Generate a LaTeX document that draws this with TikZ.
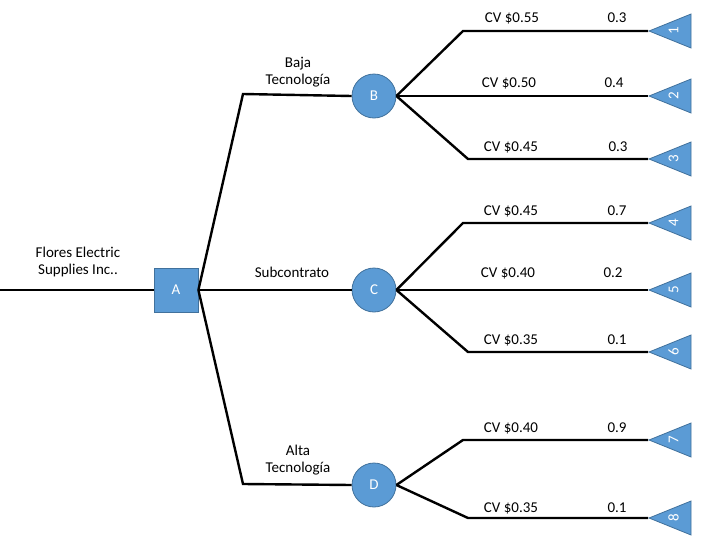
\documentclass[tikz,border=0pt]{standalone}
\usepackage{fontspec}
\setmainfont{Carlito}
\usetikzlibrary{shapes.geometric}
\begin{document}
\begin{tikzpicture}[x=1pt,y=-1pt,
  every node/.style={font=\fontsize{15}{17}\selectfont},
  ln/.style={line width=2.4pt,black},
  blue/.style={fill=cb,draw=cd,line width=0.8pt,text=white},
  chance/.style={blue,circle,minimum size=44pt,inner sep=0},
  dec/.style={blue,rectangle,minimum size=44pt,inner sep=0},
  endtri/.style={blue,isosceles triangle,isosceles triangle stretches,shape border rotate=180,minimum width=34pt,minimum height=42pt,inner sep=0,anchor=apex},
  txt/.style={align=center,inner sep=0}]
\definecolor{cb}{HTML}{5B9BD5}
\definecolor{cd}{HTML}{41719C}
\useasboundingbox (0,0) rectangle (705,549);
\node[dec] (A) at (176,290) {A};
\node[chance] (B) at (374,96) {B};
\node[chance] (C) at (374,290) {C};
\node[chance] (D) at (374,485) {D};
\coordinate (s) at (0,290);
\draw[ln] (s) -- (A.west);
\coordinate (ab) at (243,94);
\coordinate (ad) at (243,484);
\draw[ln] (A.east) -- (ab) -- (B.west);
\draw[ln] (A.east) -- (C.west);
\draw[ln] (A.east) -- (ad) -- (D.west);
\node[txt] at (78,262) {Flores Electric\\Supplies Inc..};
\node[txt] at (298,72) {Baja\\Tecnología};
\node[txt] at (292,272) {Subcontrato};
\node[txt] at (298,460) {Alta\\Tecnología};
\foreach \n/\y/\bx/\p/\cv/\pr/\cx/\px/\ly in {
 1/31/463/B/0.55/0.3/512/617/18,
 2/96/398/B/0.50/0.4/509/614/83,
 3/159/468/B/0.45/0.3/511/618/147,
 4/223/463/C/0.45/0.7/511/617/211,
 5/290/398/C/0.40/0.2/508/613/273,
 6/352/468/C/0.35/0.1/511/617/340,
 7/440/463/D/0.40/0.9/511/617/428,
 8/518/468/D/0.35/0.1/511/617/508}{
  \node[endtri] (T\n) at (648,\y) {};
  \node[text=white,rotate=90,inner sep=0] at ([xshift=-6pt]T\n.center) {\n};
  \coordinate (k\n) at (\bx,\y);
  \draw[ln] (\p.east) -- (k\n) -- (T\n.apex);
  \node[txt] at (\cx,\ly) {CV \$\cv};
  \node[txt] at (\px,\ly) {\pr};
}
\end{tikzpicture}
\end{document}
